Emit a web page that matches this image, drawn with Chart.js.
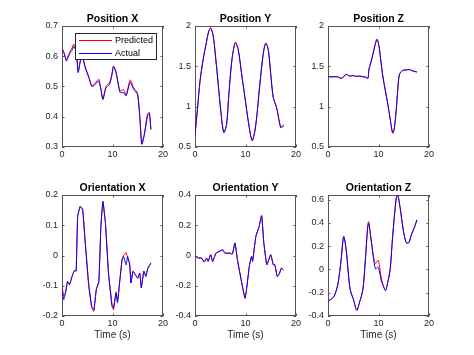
<!DOCTYPE html>
<html><head><meta charset="utf-8">
<script src="https://cdn.jsdelivr.net/npm/chart.js@4"></script>
<style>
html,body{margin:0;padding:0;background:#fff;width:474px;height:355px;overflow:hidden;}
.c{position:absolute;}
</style></head><body>
<script>
// ---------- data ----------
const titles = ['Position X','Position Y','Position Z','Orientation X','Orientation Y','Orientation Z'];
const seriesLabels = ['Predicted','Actual'];
const xTicks = [0, 10, 20];
const xLabel = 'Time (s)';

const posX_t      = [0,0.4,0.87,1.3,1.66,2.0,2.3,2.8,3.2,3.6,4.0,4.6,5.3,5.9,6.5,7.0,7.3,7.7,8.1,8.7,9.4,9.8,10.2,10.7,11.5,12.2,12.7,13.5,14.2,14.95,15.4,15.8,16.3,16.95,17.3,17.6];
const posX_actual = [0.623,0.61,0.584,0.60,0.612,0.62,0.632,0.617,0.546,0.58,0.6,0.562,0.53,0.5,0.505,0.515,0.518,0.49,0.457,0.495,0.507,0.53,0.566,0.546,0.48,0.48,0.469,0.514,0.49,0.474,0.40,0.309,0.34,0.405,0.41,0.358];
const posX_pred   = [0.628,0.612,0.588,0.605,0.618,0.628,0.64,0.62,0.55,0.585,0.605,0.565,0.532,0.502,0.51,0.52,0.524,0.493,0.458,0.5,0.512,0.535,0.568,0.548,0.485,0.49,0.472,0.522,0.495,0.478,0.402,0.31,0.342,0.41,0.415,0.36];
const posX_yTicks = [0.3,0.4,0.5,0.6,0.7];

const posY_t      = [0,0.5,1.0,1.6,2.3,2.7,3.1,3.6,4.1,4.6,5.1,5.7,6.25,6.7,7.2,7.6,8.0,8.55,9.2,9.9,10.6,11.3,11.8,12.2,12.8,13.5,14.0,14.5,15.0,15.5,16.0,16.3,16.95,17.3,17.6];
const posY_actual = [0.65,0.98,1.32,1.58,1.81,1.93,1.97,1.88,1.6,1.28,0.95,0.68,0.78,1.15,1.52,1.7,1.79,1.71,1.42,1.11,0.8,0.58,0.68,0.86,1.25,1.65,1.78,1.71,1.4,1.11,1.02,0.95,0.74,0.75,0.76];
const posY_pred   = [0.65,0.98,1.32,1.58,1.81,1.93,1.98,1.88,1.6,1.28,0.95,0.68,0.78,1.15,1.52,1.7,1.80,1.71,1.42,1.11,0.8,0.58,0.68,0.86,1.25,1.65,1.79,1.71,1.4,1.11,1.02,0.95,0.75,0.76,0.78];
const posY_yTicks = [0.5,1,1.5,2];

const posZ_t      = [0,0.8,1.6,2.1,2.6,3.1,3.6,4.25,5.0,5.6,6.3,6.9,7.5,7.9,8.1,8.5,8.9,9.3,9.7,10.1,10.5,10.85,11.35,11.85,12.3,12.8,13.1,13.5,13.8,14.15,14.8,15.5,16.1,16.5,16.9,17.6];
const posZ_actual = [1.372,1.37,1.372,1.365,1.35,1.37,1.40,1.38,1.385,1.375,1.38,1.37,1.365,1.35,1.46,1.55,1.65,1.76,1.83,1.75,1.55,1.38,1.2,1.03,0.85,0.68,0.72,0.95,1.2,1.40,1.45,1.455,1.46,1.45,1.44,1.43];
const posZ_pred   = [1.372,1.37,1.372,1.365,1.35,1.37,1.40,1.38,1.385,1.375,1.38,1.37,1.365,1.35,1.46,1.55,1.65,1.76,1.84,1.75,1.55,1.38,1.2,1.03,0.85,0.67,0.72,0.95,1.2,1.40,1.45,1.455,1.46,1.45,1.44,1.43];
const posZ_yTicks = [0.5,1,1.5,2];

const oriX_t      = [0,0.35,0.7,1.1,1.5,2.0,2.45,2.8,3.1,3.6,4.1,4.6,5.3,5.9,6.3,6.8,7.3,7.7,8.1,8.6,9.2,9.9,10.2,10.7,11.0,11.4,11.9,12.2,12.7,13.0,13.4,13.65,14.05,14.5,15.0,15.4,15.7,16.2,16.6,17.0,17.6];
const oriX_actual = [-0.113,-0.146,-0.124,-0.086,-0.097,-0.069,-0.049,-0.052,0.129,0.162,0.151,0.041,-0.102,-0.173,-0.18,-0.113,-0.086,0.096,0.178,0.107,-0.058,-0.168,-0.173,-0.124,-0.157,-0.091,-0.014,-0.003,-0.031,-0.003,-0.031,-0.091,-0.052,-0.063,-0.075,-0.058,-0.107,-0.052,-0.069,-0.042,-0.025];
const oriX_pred   = [-0.1,-0.135,-0.12,-0.085,-0.095,-0.068,-0.05,-0.05,0.13,0.163,0.152,0.045,-0.095,-0.17,-0.185,-0.11,-0.088,0.097,0.18,0.108,-0.055,-0.16,-0.18,-0.12,-0.15,-0.09,-0.012,0.0,0.01,-0.01,-0.025,-0.09,-0.052,-0.063,-0.075,-0.058,-0.107,-0.052,-0.069,-0.042,-0.025];
const oriX_yTicks = [-0.2,-0.1,0,0.1,0.2];

const oriY_t      = [0,0.65,1.3,1.85,2.3,2.6,3.1,3.5,4.15,4.8,5.5,5.9,6.9,7.4,7.9,8.4,9.2,9.9,10.2,10.75,11.2,11.4,12.05,12.7,13.2,13.6,14.2,14.5,15.0,15.5,15.8,16.3,16.75,17.1,17.5];
const oriY_actual = [-0.002,-0.017,-0.017,-0.043,-0.017,-0.039,0.005,-0.039,0.016,0.027,0.038,0.016,0.016,0.009,0.082,-0.028,-0.171,-0.281,-0.226,-0.072,-0.006,-0.039,0.126,0.192,0.262,0.093,-0.061,-0.039,0.005,-0.061,-0.061,-0.138,-0.116,-0.083,-0.094];
const oriY_pred   = [-0.002,-0.017,-0.017,-0.043,-0.017,-0.039,0.005,-0.039,0.016,0.027,0.038,0.016,0.016,0.009,0.084,-0.028,-0.171,-0.285,-0.226,-0.072,-0.006,-0.039,0.126,0.192,0.265,0.093,-0.061,-0.039,0.005,-0.061,-0.061,-0.138,-0.116,-0.085,-0.1];
const oriY_yTicks = [-0.4,-0.2,0,0.2,0.4];

const oriZ_t      = [0,0.65,1.1,1.5,2.0,2.6,3.1,3.6,4.0,4.4,5.05,5.7,6.2,6.9,7.4,8.0,8.5,9.0,9.4,9.9,10.2,10.5,10.85,11.4,11.8,12.3,12.8,13.5,13.8,14.3,14.9,15.5,16.0,16.5,17.1,17.6];
const oriZ_actual = [-0.274,-0.254,-0.237,-0.2,-0.117,0.083,0.283,0.169,-0.02,-0.174,-0.26,-0.351,-0.289,-0.174,0.083,0.398,0.269,0.1,0.005,0.02,-0.02,-0.09,-0.132,-0.18,-0.117,-0.003,0.283,0.612,0.64,0.526,0.34,0.231,0.231,0.297,0.36,0.426];
const oriZ_pred   = [-0.274,-0.254,-0.237,-0.2,-0.117,0.083,0.283,0.169,-0.02,-0.174,-0.26,-0.351,-0.289,-0.174,0.083,0.41,0.269,0.11,0.05,0.08,0.03,-0.06,-0.125,-0.18,-0.117,-0.003,0.283,0.612,0.64,0.526,0.34,0.231,0.231,0.297,0.36,0.426];
const oriZ_yTicks = [-0.4,-0.2,0,0.2,0.4,0.6];

const yMins = [0.3, 0.5, 0.5, -0.2, -0.4, -0.4];
const yMaxs = [0.7, 2, 2, 0.2, 0.4, 0.64];

// ---------- build ----------
const panels = [
  [posX_t, posX_pred, posX_actual, posX_yTicks],
  [posY_t, posY_pred, posY_actual, posY_yTicks],
  [posZ_t, posZ_pred, posZ_actual, posZ_yTicks],
  [oriX_t, oriX_pred, oriX_actual, oriX_yTicks],
  [oriY_t, oriY_pred, oriY_actual, oriY_yTicks],
  [oriZ_t, oriZ_pred, oriZ_actual, oriZ_yTicks]
];
const tensions = [0.2, 0.3, 0.3, 0.1, 0.15, 0.3];

const FONT = '"Liberation Sans", Arial, Helvetica, sans-serif';
const boxPos = [[62,26],[195,26],[328,26],[62,195],[195,195],[328,195]];
const BW = 101, BH = 121, PADL = 40, PADT = 26, PADR = 40, PADB = 30;
const AX = '#262626';

const framePlugin = {
  id: 'frame',
  beforeDatasetsDraw(chart) {
    const {ctx, chartArea: a, scales} = chart;
    ctx.save();
    ctx.strokeStyle = '#555555';
    ctx.lineWidth = 1;
    ctx.strokeRect(a.left + 0.5, a.top + 0.5, a.right - a.left - 1, a.bottom - a.top - 1);
    ctx.beginPath();
    scales.x.ticks.forEach(t => {
      const px = Math.round(scales.x.getPixelForValue(t.value)) + 0.5;
      ctx.moveTo(px, a.bottom); ctx.lineTo(px, a.bottom - 2.5);
      ctx.moveTo(px, a.top); ctx.lineTo(px, a.top + 2.5);
    });
    scales.y.ticks.forEach(t => {
      const py = Math.round(scales.y.getPixelForValue(t.value)) + 0.5;
      ctx.moveTo(a.left, py); ctx.lineTo(a.left + 2.5, py);
      ctx.moveTo(a.right, py); ctx.lineTo(a.right - 2.5, py);
    });
    ctx.stroke();
    ctx.restore();
  }
};

const legendPlugin = {
  id: 'boxLegend',
  afterDatasetsDraw(chart, args, opts) {
    if (!opts || !opts.show) return;
    const {ctx, chartArea: a} = chart;
    const bw = 82, bh = 27;
    const bx = a.right - 6 - bw, by = a.top + 7;
    ctx.save();
    ctx.fillStyle = '#fff';
    ctx.fillRect(bx, by, bw, bh);
    ctx.strokeStyle = AX;
    ctx.lineWidth = 1;
    ctx.strokeRect(bx + 0.5, by + 0.5, bw - 1, bh - 1);
    chart.data.datasets.forEach((ds, i) => {
      const y = Math.round(by + 7 + i * 13.3) + 0.5;
      ctx.strokeStyle = ds.borderColor;
      ctx.beginPath(); ctx.moveTo(bx + 4, y); ctx.lineTo(bx + 37, y); ctx.stroke();
      ctx.fillStyle = '#000';
      ctx.font = '9px ' + FONT;
      ctx.textBaseline = 'middle';
      ctx.textAlign = 'left';
      ctx.fillText(ds.label, bx + 40, y);
    });
    ctx.restore();
  }
};

const fmt = v => String(+Number(v).toFixed(2));

panels.forEach((p, i) => {
  const [t, pred, act, yt] = p;
  const [L, T] = boxPos[i];
  const div = document.createElement('div');
  div.className = 'c';
  div.style.left = (L - PADL) + 'px';
  div.style.top = (T - PADT) + 'px';
  const cv = document.createElement('canvas');
  const W = PADL + BW + PADR, H = PADT + BH + PADB;
  cv.width = W; cv.height = H;
  cv.style.width = W + 'px'; cv.style.height = H + 'px';
  div.appendChild(cv);
  document.body.appendChild(div);
  const bottomRow = i >= 3;
  new Chart(cv, {
    type: 'line',
    data: {
      datasets: [
        { label: seriesLabels[0], order: 1, data: t.map((x, k) => ({x, y: pred[k]})), borderColor: '#ff0000', borderWidth: 1, pointRadius: 0, tension: tensions[i], fill: false },
        { label: seriesLabels[1], order: 0, data: t.map((x, k) => ({x, y: act[k]})), borderColor: '#0000ff', borderWidth: 1, pointRadius: 0, tension: tensions[i], fill: false }
      ]
    },
    options: {
      responsive: false, animation: false, devicePixelRatio: 1,
      layout: { padding: 0 },
      plugins: {
        legend: { display: false },
        tooltip: { enabled: false },
        title: {
          display: true, text: titles[i], color: '#000',
          font: { family: FONT, size: 10.5, weight: 'bold', lineHeight: 1.2 },
          padding: { top: 13, bottom: 0.4 }
        },
        boxLegend: { show: i === 0 }
      },
      scales: {
        x: {
          type: 'linear', min: 0, max: 20,
          afterBuildTicks: s => { s.ticks = xTicks.map(v => ({value: v})); },
          afterFit: s => { s.height = PADB; },
          grid: { display: false, drawTicks: false },
          border: { display: false },
          ticks: { padding: 2, color: AX, font: { family: FONT, size: 9 }, callback: v => fmt(v), maxRotation: 0 },
          title: { display: bottomRow, text: xLabel, color: AX, font: { family: FONT, size: 10 }, padding: { top: 0, bottom: 5 } }
        },
        y: {
          type: 'linear', position: 'left', min: yMins[i], max: yMaxs[i],
          afterBuildTicks: s => { s.ticks = yt.map(v => ({value: v})); },
          afterFit: s => { s.width = PADL; },
          grid: { display: false, drawTicks: false },
          border: { display: false },
          ticks: { padding: 4, color: AX, font: { family: FONT, size: 9 }, callback: v => fmt(v) }
        },
        yRightSpace: {
          type: 'linear', position: 'right', display: true, min: yMins[i], max: yMaxs[i],
          afterFit: s => { s.width = PADR; },
          grid: { display: false, drawTicks: false },
          border: { display: false },
          ticks: { display: false }
        }
      }
    },
    plugins: [framePlugin, legendPlugin]
  });
});
</script>
</body></html>
